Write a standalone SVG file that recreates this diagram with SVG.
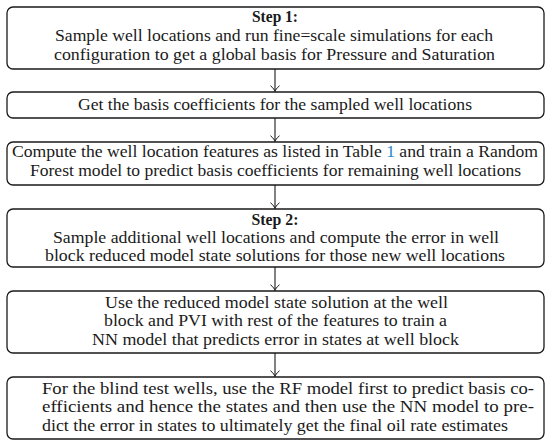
<svg xmlns="http://www.w3.org/2000/svg" width="550" height="446" viewBox="0 0 550 446">
<defs>
<style>
.box{fill:#fff;stroke:#1a1a1a;stroke-width:1.3}
.t{font-family:"Liberation Serif","Times New Roman",serif;font-size:16px;fill:#1a1a1a}
.c{text-anchor:middle}
.b{font-weight:bold}
.conn{stroke:#1a1a1a;stroke-width:1.1;fill:none}
.ref{fill:#2b87c8}
</style>
<marker id="arr" markerUnits="userSpaceOnUse" markerWidth="12" markerHeight="12" viewBox="-7 -6 8 12" refX="0" refY="0" orient="auto">
<path d="M-5.5,-4.2 C-3.5,-1.6 -1.2,-0.4 0,0 C-1.2,0.4 -3.5,1.6 -5.5,4.2" fill="none" stroke="#1a1a1a" stroke-width="1" stroke-linecap="round"/>
</marker>
</defs>
<rect width="550" height="446" fill="#fff"/>

<g id="connectors">
<line class="conn" x1="275" y1="69" x2="275" y2="91.5" marker-end="url(#arr)"/>
<line class="conn" x1="275" y1="118" x2="275" y2="141.5" marker-end="url(#arr)"/>
<line class="conn" x1="275" y1="185" x2="275" y2="208.5" marker-end="url(#arr)"/>
<line class="conn" x1="275" y1="267" x2="275" y2="290.5" marker-end="url(#arr)"/>
<line class="conn" x1="275" y1="353" x2="275" y2="376.5" marker-end="url(#arr)"/>
</g>

<g id="node1">
<rect class="box" x="7" y="7" width="537" height="62" rx="6"/>
<text class="t c b" x="275" y="22" textLength="46" lengthAdjust="spacingAndGlyphs">Step 1:</text>
<text class="t c" x="274" y="41" textLength="438" lengthAdjust="spacingAndGlyphs">Sample well locations and run fine=scale simulations for each</text>
<text class="t c" x="274.5" y="59.5" textLength="441" lengthAdjust="spacingAndGlyphs">configuration to get a global basis for Pressure and Saturation</text>
</g>

<g id="node2">
<rect class="box" x="7" y="92" width="537" height="26" rx="6"/>
<text class="t c" x="275" y="109.5" textLength="394" lengthAdjust="spacingAndGlyphs">Get the basis coefficients for the sampled well locations</text>
</g>

<g id="node3">
<rect class="box" x="7" y="142" width="537" height="43" rx="6"/>
<text class="t c" x="275" y="157" textLength="526" lengthAdjust="spacingAndGlyphs">Compute the well location features as listed in Table <tspan class="ref">1</tspan> and train a Random</text>
<text class="t c" x="275.5" y="175.5" textLength="491" lengthAdjust="spacingAndGlyphs">Forest model to predict basis coefficients for remaining well locations</text>
</g>

<g id="node4">
<rect class="box" x="7" y="209" width="537" height="58" rx="6"/>
<text class="t c b" x="275" y="224.5" textLength="47" lengthAdjust="spacingAndGlyphs">Step 2:</text>
<text class="t c" x="276" y="243" textLength="446" lengthAdjust="spacingAndGlyphs">Sample additional well locations and compute the error in well</text>
<text class="t c" x="275" y="261" textLength="460" lengthAdjust="spacingAndGlyphs">block reduced model state solutions for those new well locations</text>
</g>

<g id="node5">
<rect class="box" x="7" y="291" width="537" height="62" rx="6"/>
<text class="t c" x="276.5" y="307.5" textLength="343" lengthAdjust="spacingAndGlyphs">Use the reduced model state solution at the well</text>
<text class="t c" x="275.5" y="326" textLength="343" lengthAdjust="spacingAndGlyphs">block and PVI with rest of the features to train a</text>
<text class="t c" x="275.5" y="344.5" textLength="367" lengthAdjust="spacingAndGlyphs">NN model that predicts error in states at well block</text>
</g>

<g id="node6">
<rect class="box" x="7" y="377" width="537" height="62" rx="6"/>
<text class="t" x="42" y="393.5" textLength="492" lengthAdjust="spacingAndGlyphs">For the blind test wells, use the RF model first to predict basis co-</text>
<text class="t" x="42" y="412" textLength="492" lengthAdjust="spacingAndGlyphs">efficients and hence the states and then use the NN model to pre-</text>
<text class="t" x="42" y="430.5" textLength="466" lengthAdjust="spacingAndGlyphs">dict the error in states to ultimately get the final oil rate estimates</text>
</g>
</svg>
